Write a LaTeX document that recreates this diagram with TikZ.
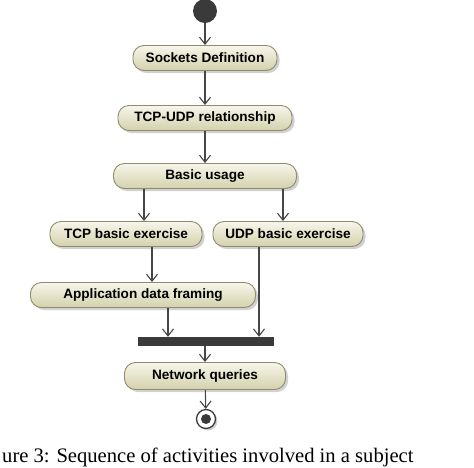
\documentclass[tikz,border=0pt]{standalone}
\usepackage{fontspec}
\setmainfont{Liberation Serif}
\setsansfont{Liberation Sans}
\usepackage{xcolor}
\usetikzlibrary{positioning,shapes,calc,arrows.meta,shadows}
\definecolor{boxtop}{HTML}{F7F6EA}
\definecolor{boxbot}{HTML}{D3D1AC}
\definecolor{boxline}{HTML}{8E8C6A}
\definecolor{flowgray}{HTML}{464646}
\definecolor{bargray}{HTML}{3A3A3A}

\begin{document}
\begin{tikzpicture}[
  x=1pt, y=-1pt,
  activity/.style={
    rectangle,
    rounded corners=11pt,
    draw=boxline,
    line width=0.9pt,
    top color=boxtop,
    bottom color=boxbot,
    minimum height=25pt,
    inner sep=0pt,
    font=\sffamily\bfseries\fontsize{13.6}{16}\selectfont,
    drop shadow={shadow xshift=2.5pt, shadow yshift=-2.5pt, fill=black!30, opacity=0.6}
  },
  flow/.style={-{Straight Barb[length=7pt,width=11pt]}, line width=1.1pt, draw=flowgray},
  startdot/.style={circle, fill=bargray, minimum size=24pt, inner sep=0pt},
  enddot/.style={circle, draw=bargray, line width=1.3pt, fill=white, minimum size=19pt, inner sep=0pt,
    drop shadow={shadow xshift=2pt, shadow yshift=-2pt, fill=black!30, opacity=0.6}},
  joinbar/.style={rectangle, fill=bargray, minimum width=136pt, minimum height=9pt, inner sep=0pt}
]
\useasboundingbox (0,0) rectangle (474,467);

% Start and first activities
\node[startdot] (start) at (205,11) {};
\node[activity, minimum width=144pt] (sockets) at (205,58) {Sockets Definition};
\node[activity, minimum width=174pt] (tcpudp) at (205,118) {TCP-UDP relationship};
\node[activity, minimum width=183pt] (basic) at (205,176) {Basic usage};

% Two branches
\node[activity, minimum width=152pt] (tcp) at (126,234) {TCP basic exercise};
\node[activity, minimum width=150pt] (udp) at (288,234) {UDP basic exercise};
\node[activity, minimum width=225pt] (framing) at (143,295) {Application data framing};

% Join and end
\node[joinbar] (bar) at (206,341.5) {};
\node[activity, minimum width=161pt, minimum height=27pt] (queries) at (205,376) {Network queries};
\node[enddot] (end) at (206,419) {};
\node[circle, fill=bargray, minimum size=10pt, inner sep=0pt] (endin) at (end) {};

% Caption
\node[anchor=base west, inner sep=0pt, font=\fontsize{20.6}{24}\selectfont] (caption) at (2,462)
  {ure 3: Sequence of activities involved in a subject};

% Flow
\draw[flow] (start) -- (sockets);
\draw[flow] (sockets) -- (tcpudp);
\draw[flow] (tcpudp) -- (basic);
\draw[flow] ([xshift=-61pt]basic.south) -- ([xshift=-61pt]basic.south |- tcp.north);
\draw[flow] ([xshift=78pt]basic.south) -- ([xshift=78pt]basic.south |- udp.north);
\draw[flow] ([xshift=26pt]tcp.south) -- ([xshift=26pt]tcp.south |- framing.north);
\draw[flow] ([xshift=25pt]framing.south) -- ([xshift=25pt]framing.south |- bar.north);
\draw[flow] ([xshift=-29pt]udp.south) -- ([xshift=-29pt]udp.south |- bar.north);
\draw[flow] (bar.south -| queries.north) -- (queries.north);
\draw[flow] (queries) -- (end);

\end{tikzpicture}
\end{document}
